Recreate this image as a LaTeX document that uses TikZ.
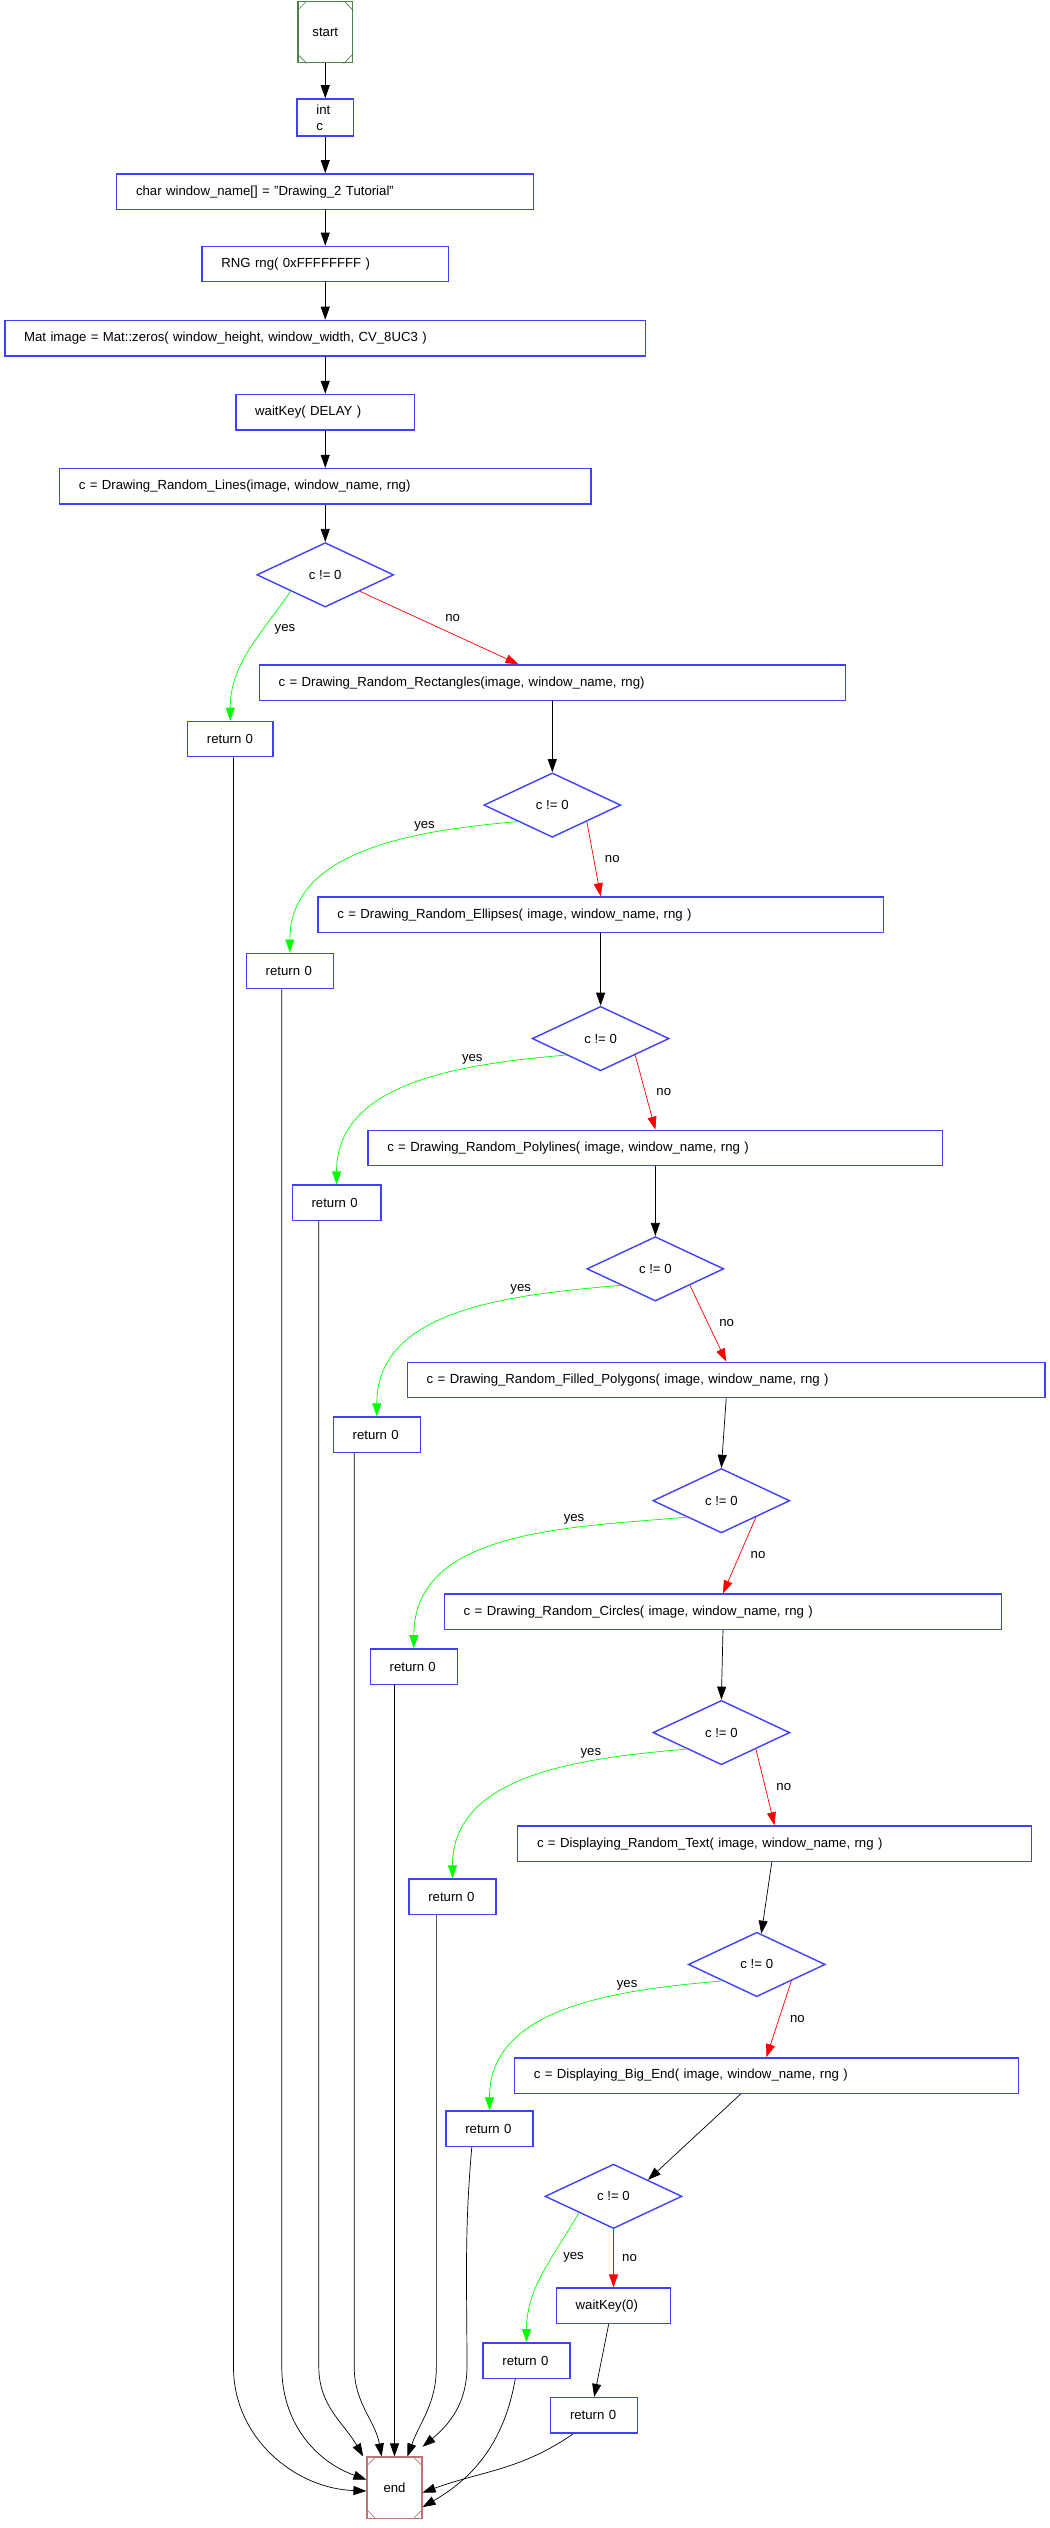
\documentclass[tikz,border=0pt]{standalone}
\usepackage{fontspec}
\setmainfont{Liberation Sans}
\usepackage{tikz}
\usetikzlibrary{positioning, arrows.meta, shapes.geometric, calc}
\newcommand{\pxu}{0.0322cm}
\definecolor{boxblue}{rgb}{0.25,0.25,1}
\definecolor{startgreen}{rgb}{0.3,0.5,0.3}
\definecolor{endred}{rgb}{0.75,0.45,0.45}

\begin{document}
\begin{tikzpicture}[
      % GLOBAL CFG
      x=\pxu, y=-\pxu,
      font=\fontsize{7.5}{9}\selectfont,
      >={Triangle[length=2.6mm,width=1.8mm]},
      % Styles
      box/.style={% For statements
        rectangle,
        draw=boxblue,
        thick,
        minimum height=22*\pxu,
        text width=(#1-24)*\pxu,
        inner xsep=12*\pxu,
        align=left
      },
      cond/.style={% For tests
        diamond,
        draw=boxblue,
        thick,
        minimum width=85*\pxu,
        minimum height=40*\pxu,
        aspect=2.1,
        inner sep=0pt
      },
      term/.style={% For start and end
        rectangle,
        draw=#1,
        thick,
        minimum width=34*\pxu,
        minimum height=38*\pxu
      },
      flow/.style={->, thin},
      yesflow/.style={->, thin, green, every node/.style={black}},
      noflow/.style={->, thin, red, every node/.style={black}}
      ]

      \useasboundingbox (0,0) rectangle (652,1570);

      % Main chain
      \node [term=startgreen] (start) at (202,20) {start};
      \node [box=35] (intc) at (202,73) {int c};
      \node [box=259] (wname) at (202,119) {char window\_name[] = "Drawing\_2 Tutorial"};
      \node [box=153] (rng) at (202,164) {RNG rng( 0xFFFFFFFF )};
      \node [box=398] (image) at (202,210) {Mat image = Mat::zeros( window\_height, window\_width, CV\_8UC3 )};
      \node [box=111] (delay) at (202,256) {waitKey( DELAY )};
      \node [box=330] (lines) at (202,302) {c = Drawing\_Random\_Lines(image, window\_name, rng)};

      \node [cond] (test1) at (202,357) {c != 0};
      \node [box=53] (ret1) at (143,459) {return 0};
      \node [box=364] (rects) at (343,424) {c = Drawing\_Random\_Rectangles(image, window\_name, rng)};

      \node [cond] (test2) at (343,500) {c != 0};
      \node [box=54] (ret2) at (180,603) {return 0};
      \node [box=351] (ellipses) at (373,568) {c = Drawing\_Random\_Ellipses( image, window\_name, rng )};

      \node [cond] (test3) at (373,645) {c != 0};
      \node [box=55] (ret3) at (209,747) {return 0};
      \node [box=357] (polylines) at (407,713) {c = Drawing\_Random\_Polylines( image, window\_name, rng )};

      \node [cond] (test4) at (407,788) {c != 0};
      \node [box=54] (ret4) at (234,891) {return 0};
      \node [box=396] (polygons) at (451,857) {c = Drawing\_Random\_Filled\_Polygons( image, window\_name, rng )};

      \node [cond] (test5) at (448,932) {c != 0};
      \node [box=54] (ret5) at (257,1035) {return 0};
      \node [box=346] (circles) at (449,1001) {c = Drawing\_Random\_Circles( image, window\_name, rng )};

      \node [cond] (test6) at (448,1076) {c != 0};
      \node [box=54] (ret6) at (281,1178) {return 0};
      \node [box=319] (text) at (481,1145) {c = Displaying\_Random\_Text( image, window\_name, rng )};

      \node [cond] (test7) at (470,1220) {c != 0};
      \node [box=54] (ret7) at (304,1322) {return 0};
      \node [box=313] (bigend) at (476,1289) {c = Displaying\_Big\_End( image, window\_name, rng )};

      \node [cond] (test8) at (381,1364) {c != 0};
      \node [box=71] (wait0) at (381,1432) {waitKey(0)};
      \node [box=54] (ret8) at (327,1466) {return 0};
      \node [box=54] (ret9) at (369,1500) {return 0};

      \node [term=endred] (end) at (245,1545) {end};

      % Corner marks of the terminals
      \foreach \t/\c in {start/startgreen, end/endred} {
        \draw [\c] ([xshift=6*\pxu]\t.north west) -- ([yshift=-6*\pxu]\t.north west);
        \draw [\c] ([xshift=-6*\pxu]\t.north east) -- ([yshift=-6*\pxu]\t.north east);
        \draw [\c] ([xshift=6*\pxu]\t.south west) -- ([yshift=6*\pxu]\t.south west);
        \draw [\c] ([xshift=-6*\pxu]\t.south east) -- ([yshift=6*\pxu]\t.south east);
      }

      % Straight flow
      \draw [flow] (start) -- (intc);
      \draw [flow] (intc) -- (wname);
      \draw [flow] (wname) -- (rng);
      \draw [flow] (rng) -- (image);
      \draw [flow] (image) -- (delay);
      \draw [flow] (delay) -- (lines);
      \draw [flow] (lines) -- (test1);
      \draw [flow] (rects) -- (test2);
      \draw [flow] (ellipses) -- (test3);
      \draw [flow] (polylines) -- (test4);
      \draw [flow] (polygons.south) -- (test5.north);
      \draw [flow] (circles.south) -- (test6.north);
      \draw [flow] (text) -- (test7);
      \draw [flow] ([xshift=-16*\pxu]bigend.south) -- (test8.north east);
      \draw [flow] ([xshift=-3*\pxu]wait0.south) -- (ret9.north);

      % Branches
      \draw [yesflow] (test1.south west) to[out=235,in=90] node[right=1mm, pos=0.3] {yes} (ret1.north);
      \draw [noflow] (test1.south east) -- node[above right=0mm] {no} ([xshift=-21*\pxu]rects.north);
      \foreach \i/\r/\n in {2/ret2/ellipses, 3/ret3/polylines, 4/ret4/polygons,
                            5/ret5/circles, 6/ret6/text, 7/ret7/bigend} {
        \draw [yesflow] (test\i.south west) to[out=185,in=90] node[above right=0mm, pos=0.35] {yes} (\r.north);
        \draw [noflow] (test\i.south east) -- node[right=1mm] {no} (\n.north);
      }
      \draw [yesflow] (test8.south west) to[out=240,in=90] node[right=1mm, pos=0.35] {yes} (ret8.north);
      \draw [noflow] (test8.south) -- node[right=0.5mm] {no} (wait0.north);

      % Into the end
      \coordinate (bend) at (0,1470);
      \draw [flow] ([xshift=2*\pxu]ret1.south) -- ([xshift=2*\pxu]ret1.south |- bend) to[out=-90,in=178] ([yshift=-2*\pxu]end.west);
      \draw [flow] ([xshift=-5*\pxu]ret2.south) -- ([xshift=-5*\pxu]ret2.south |- bend) to[out=-90,in=160] ([yshift=5*\pxu]end.west);
      \draw [flow] ([xshift=-11*\pxu]ret3.south) -- ([xshift=-11*\pxu]ret3.south |- bend) to[out=-90,in=120] ([xshift=-2*\pxu]end.north west);
      \draw [flow] ([xshift=-14*\pxu]ret4.south) -- ([xshift=-14*\pxu]ret4.south |- bend) to[out=-90,in=100] ([xshift=-8*\pxu]end.north);
      \draw [flow] ([xshift=-12*\pxu]ret5.south) -- (end.north);
      \draw [flow] ([xshift=-10*\pxu]ret6.south) -- ([xshift=-10*\pxu]ret6.south |- bend) to[out=-90,in=70] ([xshift=8*\pxu]end.north);
      \draw [flow] ([xshift=-11*\pxu]ret7.south) to[out=-95,in=90] ([xshift=-14*\pxu]ret7.south |- bend) to[out=-90,in=40] ([yshift=6*\pxu]end.north east);
      \draw [flow] ([xshift=-7*\pxu]ret8.south) to[out=-100,in=30] ([yshift=-12*\pxu]end.east);
      \draw [flow] ([xshift=-13*\pxu]ret9.south) to[out=-145,in=20] ([yshift=-3*\pxu]end.east);

    \end{tikzpicture}
\end{document}
